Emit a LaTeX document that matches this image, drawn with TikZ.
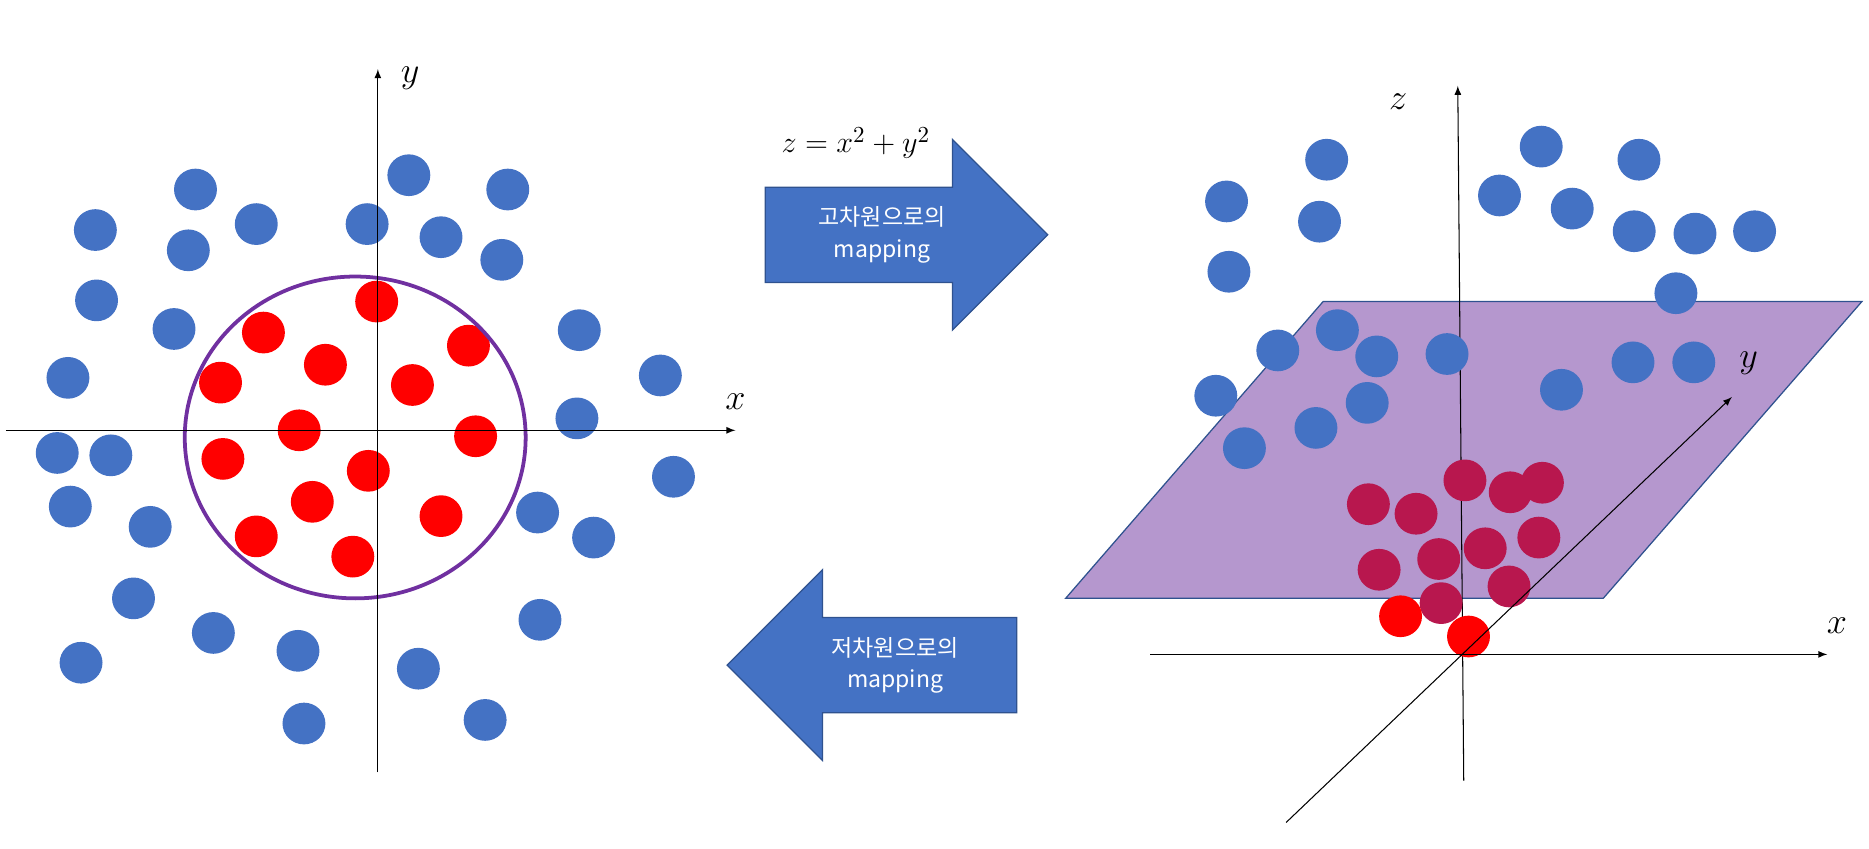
\documentclass[tikz,border=0pt]{standalone}
\usetikzlibrary{shapes.geometric}
\usepackage{fontspec}
\newfontfamily\kr{Noto Sans CJK KR}
\begin{document}
\begin{tikzpicture}[x=0.02cm,y=-0.02cm,
  bdot/.style={fill=bblue,draw=none},
  rdot/.style={fill=red,draw=none},
  cdot/.style={fill=crim,draw=none},
  ax/.style={line width=0.5pt,-latex},
  albl/.style={font=\fontsize{16}{16}\selectfont},
  arrowshape/.style={fill=bblue,draw=bborder,line width=0.6pt},
  atext/.style={text=white,align=center,font=\kr\fontsize{11}{15}\selectfont}]
\definecolor{bblue}{HTML}{4472C4}
\definecolor{bborder}{HTML}{2F528F}
\definecolor{crim}{HTML}{B8174E}
\definecolor{purp}{HTML}{7030A0}
\definecolor{plane}{HTML}{B597CE}
\useasboundingbox (0,0) rectangle (1568,712);
% left
\foreach \p in {(164,159),(80,193),(158,210),(215,188),(308,188),(343,147),(426,159),(370,199),(421,218),(81,252),(146,276),(486,277),(57,317),(554,315),(484,351),(48,380),(93,382),(565,400),(59,425),(126,442),(451,430),(498,451),(112,502),(179,531),(250,546),(453,520),(68,556),(351,561),(255,607),(407,604)}
  \fill[bdot] \p ellipse [x radius=18, y radius=17.5];
\foreach \p in {(316,253),(221,279),(393,290),(273,306),(185,321),(346,323),(251,361),(399,366),(187,385),(309,395),(262,421),(370,433),(215,450),(296,467)}
  \fill[rdot] \p ellipse [x radius=18, y radius=17.5];
\node[draw=purp,line width=1.8pt,ellipse,minimum width=286*0.02cm,minimum height=270*0.02cm,inner sep=0] (circ) at (298,367) {};
\coordinate (xl0) at (5,361); \coordinate (xl1) at (617,361);
\coordinate (yl0) at (317,648); \coordinate (yl1) at (317,58);
\draw[ax] (xl0) -- (xl1);
\draw[ax] (yl0) -- (yl1);
\node[albl] (xlab) at (617,337) {$x$};
\node[albl] (ylab) at (344,66) {$y$};
% arrows
\draw[arrowshape] (642,157) -- (799,157) -- (799,117) -- (879,197) -- (799,277) -- (799,237) -- (642,237) -- cycle;
\node[atext] (t1) at (740,197) {고차원으로의\\mapping};
\node[font=\fontsize{15}{15}\selectfont] (f) at (718,120) {$z=x^2+y^2$};
\draw[arrowshape] (853,518) -- (690,518) -- (690,478) -- (610,558) -- (690,638) -- (690,598) -- (853,598) -- cycle;
\node[atext] (t2) at (751,558) {저차원으로의\\mapping};
% right
\fill[plane,draw=bborder,line width=0.6pt] (1110,253) -- (1562,253) -- (1345,502) -- (894,502) -- cycle;
\coordinate (z0) at (1228,655); \coordinate (z1) at (1223,72);
\coordinate (x0) at (965,549); \coordinate (x1) at (1533,549);
\coordinate (y0) at (1079,690); \coordinate (y1) at (1453,333);
\draw[ax] (z0) -- (z1);
\foreach \p in {(1113,134),(1029,169),(1107,186),(1031,228),(1293,123),(1375,134),(1258,164),(1319,175),(1371,194),(1422,196),(1472,194),(1406,246),(1122,277),(1072,294),(1155,299),(1214,297),(1020,332),(1370,304),(1421,304),(1310,327),(1147,338),(1104,359),(1044,376)}
  \fill[bdot] \p ellipse [x radius=18, y radius=17.5];
\foreach \p in {(1229,403),(1294,405),(1267,413),(1148,423),(1188,431),(1246,460),(1291,451),(1207,469),(1157,478),(1266,492),(1209,506)}
  \fill[cdot] \p ellipse [x radius=18, y radius=17.5];
\foreach \p in {(1175,517),(1232,534)}
  \fill[rdot] \p ellipse [x radius=18, y radius=17.5];
\draw[ax] (x0) -- (x1);
\draw[ax] (y0) -- (y1);
\node[albl] (zlab) at (1173,85) {$z$};
\node[albl] (xlab2) at (1541,525) {$x$};
\node[albl] (ylab2) at (1467,305) {$y$};
\end{tikzpicture}
\end{document}
